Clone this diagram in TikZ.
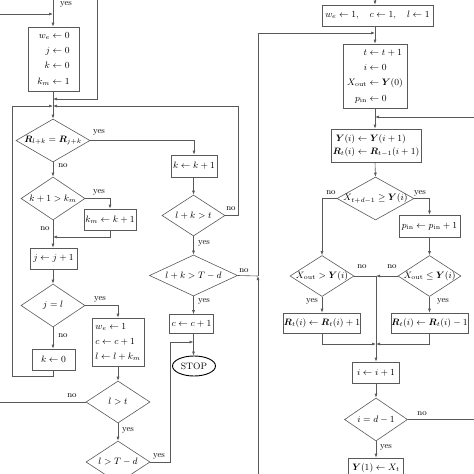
\RequirePackage{fix-cm}
\documentclass[tikz,border=0pt]{standalone}
\usepackage{amsmath}
\usetikzlibrary{shapes.geometric,arrows.meta}
\definecolor{lc}{gray}{0.35}
\tikzset{
  every node/.style={font=\fontsize{9.3}{11}\selectfont},
  blk/.style={draw=lc, line width=0.6pt, rectangle, inner sep=0pt, text=black},
  dia/.style={draw=lc, line width=0.6pt, diamond, inner sep=0pt, text=black},
  term/.style={draw=black, line width=0.9pt, ellipse, inner sep=0pt},
  lbl/.style={font=\fontsize{8.6}{10}\selectfont, inner sep=0pt},
  ln/.style={draw=lc, line width=0.6pt},
  arr/.style={ln, -{Latex[length=4pt,width=3pt]}},
}
\setlength{\jot}{4.4pt}
\begin{document}
\begin{tikzpicture}[x=1pt,y=1pt]
\useasboundingbox (0,0) rectangle (474,-474);
\clip (0,0) rectangle (474,-474);
% ---------- left column ----------
\node[blk,minimum width=51,minimum height=64] (B1) at (53.5,-59)
  {$\begin{aligned} w_e &\leftarrow 0\\ j &\leftarrow 0\\ k &\leftarrow 0\\ k_m &\leftarrow 1\end{aligned}$};
\node[dia,minimum width=74,minimum height=43] (D1) at (53,-140.5) {\makebox[0pt]{$\boldsymbol{R}_{l+k}=\boldsymbol{R}_{j+k}$}};
\node[blk,minimum width=46,minimum height=22] (K1) at (194,-166) {$k\leftarrow k+1$};
\node[dia,minimum width=64,minimum height=43] (D2) at (53,-198.5) {\makebox[0pt]{$k+1>k_m$}};
\node[blk,minimum width=52,minimum height=21] (KM) at (110,-219.5) {$k_m\leftarrow k+1$};
\node[dia,minimum width=63,minimum height=41] (D3) at (193.5,-215.5) {\makebox[0pt]{$l+k>t$}};
\node[blk,minimum width=47,minimum height=21] (J1) at (53.5,-258.5) {$j\leftarrow j+1$};
\node[dia,minimum width=88,minimum height=41] (D7) at (193.5,-275.5) {\makebox[0pt]{$l+k>T-d$}};
\node[dia,minimum width=64,minimum height=43] (D4) at (53,-305.5) {\makebox[0pt]{$j=l$}};
\node[blk,minimum width=52,minimum height=48,align=left,font=\fontsize{9.3}{15}\selectfont] (W1) at (118,-342)
  {$w_e\leftarrow 1$\\$c\leftarrow c+1$\\$l\leftarrow l+k_m$};
\node[blk,minimum width=43,minimum height=21] (K0) at (53.5,-359.5) {$k\leftarrow 0$};
\node[blk,minimum width=44,minimum height=19] (C1) at (191.5,-324) {$c\leftarrow c+1$};
\node[term,minimum width=43,minimum height=20] (STOP) at (194,-366) {STOP};
\node[dia,minimum width=64,minimum height=42] (D5) at (118,-402) {\makebox[0pt]{$l>t$}};
\node[dia,minimum width=64,minimum height=42] (D6) at (118,-462) {\makebox[0pt]{$l>T-d$}};
% ---------- right column ----------
\node[blk,minimum width=111,minimum height=21] (TB) at (377.5,-15.5) {$w_e\leftarrow 1,\quad c\leftarrow 1,\quad l\leftarrow 1$};
\node[blk,minimum width=64,minimum height=64] (TT) at (375,-76)
  {$\begin{aligned} t &\leftarrow t+1\\ i &\leftarrow 0\\ X_{\mathrm{out}} &\leftarrow \boldsymbol{Y}(0)\\ p_{\mathrm{in}} &\leftarrow 0\end{aligned}$};
\node[blk,minimum width=90,minimum height=33] (YB) at (376,-145.5)
  {$\begin{aligned} \boldsymbol{Y}(i) &\leftarrow \boldsymbol{Y}(i+1)\\[-2pt] \boldsymbol{R}_t(i) &\leftarrow \boldsymbol{R}_{t-1}(i+1)\end{aligned}$};
\node[dia,minimum width=77,minimum height=43] (D8) at (375.5,-198.5) {\makebox[0pt]{$X_{t+d-1}\geq\boldsymbol{Y}(i)$}};
\node[blk,minimum width=61,minimum height=22] (PB) at (429.5,-226) {$p_{\mathrm{in}}\leftarrow p_{\mathrm{in}}+1$};
\node[dia,minimum width=64,minimum height=41] (D9) at (322,-276) {\makebox[0pt]{$X_{\mathrm{out}}>\boldsymbol{Y}(i)$}};
\node[dia,minimum width=63,minimum height=41] (D10) at (429.5,-276) {\makebox[0pt]{$X_{\mathrm{out}}\leq\boldsymbol{Y}(i)$}};
\node[blk,minimum width=77,minimum height=20] (RL) at (322,-323) {$\boldsymbol{R}_t(i)\leftarrow\boldsymbol{R}_t(i)+1$};
\node[blk,minimum width=77,minimum height=20] (RR) at (429.5,-323) {$\boldsymbol{R}_t(i)\leftarrow\boldsymbol{R}_t(i)-1$};
\node[blk,minimum width=47,minimum height=21] (IB) at (376,-372.5) {$i\leftarrow i+1$};
\node[dia,minimum width=63,minimum height=43] (D11) at (376,-419.5) {\makebox[0pt]{$i=d-1$}};
\node[blk,minimum width=55,minimum height=21] (Y1) at (376,-468.5) {$\boldsymbol{Y}(1)\leftarrow X_t$};
% ---------- coordinates ----------
\coordinate (topL) at (53,0);
\coordinate (inL) at (0,-14);
\coordinate (m14) at (53,-14);
\coordinate (r97) at (97,0);
\coordinate (j1) at (53,-99);
\coordinate (j2) at (53,-106);
\coordinate (j3) at (53,-237);
\coordinate (lb) at (12,-376);
\coordinate (lt) at (12,-106);
\coordinate (rt) at (238,-106);
\coordinate (outL) at (0,-402);
\coordinate (c170) at (170,-342);
\coordinate (j4) at (193.5,-342);
\coordinate (b258) at (258,-474);
\coordinate (m258) at (258,-276);
\coordinate (t258) at (258,-33);
\coordinate (j5) at (375,-33);
\coordinate (topR) at (375,0);
\coordinate (inR) at (474,-117);
\coordinate (j6) at (375,-117);
\coordinate (n376) at (376,-276);
\coordinate (j7) at (376,-344);
\coordinate (outR) at (474,-419.5);
% ---------- connectors left ----------
\draw[arr] (inL) -- (m14);
\draw[arr] (topL) -- (topL |- B1.north);
\draw[arr] (r97) |- (j1);
\draw[arr] (B1.south -| D1.north) -- (D1.north);
\draw[arr] (D1.east) -| (K1.north);
\draw[arr] (D1.south) -- (D2.north);
\draw[arr] (D2.east) -| (KM.north);
\draw[arr] (KM.south) |- (j3);
\draw[arr] (D2.south) -- (D2.south |- J1.north);
\draw[arr] (D2.south |- J1.south) -- (D4.north);
\draw[arr] (D4.east) -| (W1.north);
\draw[arr] (D4.south) -- (D4.south |- K0.north);
\draw[arr] (D4.south |- K0.south) |- (lb) -- (lt) -- (j2);
\draw[arr] (W1.south) -- (D5.north);
\draw[ln] (D5.west) -- (outL);
\draw[arr] (D5.south) -- (D6.north);
\draw[arr] (D6.east) -| (c170) -- (j4);
\draw[arr] (K1.south -| D3.north) -- (D3.north);
\draw[arr] (D3.east) -| (rt) -- (j2);
\draw[arr] (D3.south) -- (D7.north);
\draw[arr] (D7.south) -- (D7.south |- C1.north);
\draw[arr] (D7.south |- C1.south) -- (D7.south |- STOP.north);
% ---------- connectors right ----------
\draw[arr] (b258) -- (m258);
\draw[ln] (D7.east) -- (m258);
\draw[arr] (m258) -- (t258) -- (j5);
\draw[arr] (topR) -- (topR |- TB.north);
\draw[arr] (TT.north |- TB.south) -- (TT.north);
\draw[arr] (TT.south) -- (TT.south |- YB.north);
\draw[arr] (inR) -- (j6);
\draw[arr] (TT.south |- YB.south) -- (D8.north);
\draw[arr] (D8.west) -| (D9.north);
\draw[arr] (D8.east) -| (PB.north);
\draw[arr] (PB.south) -- (D10.north);
\draw[ln] (D9.east) -- (n376);
\draw[arr] (D10.west) -- (n376);
\draw[arr] (n376) -- (IB.north);
\draw[arr] (D9.south) -- (RL.north);
\draw[arr] (D10.south) -- (RR.north);
\draw[arr] (RL.south) |- (j7);
\draw[arr] (RR.south) |- (j7);
\draw[arr] (IB.south) -- (D11.north);
\draw[ln] (D11.east) -- (outR);
\draw[arr] (D11.south) -- (Y1.north);
% ---------- labels ----------
\node[lbl] (l1) at (66,-4.8) {yes};
\node[lbl] (l2) at (99,-132) {yes};
\node[lbl] (l3) at (63,-166) {no};
\node[lbl] (l4) at (99,-192) {yes};
\node[lbl] (l5) at (45,-229) {no};
\node[lbl] (l6) at (231,-209) {no};
\node[lbl] (l7) at (204,-243) {yes};
\node[lbl] (l8) at (244,-271) {no};
\node[lbl] (l9) at (204,-301) {yes};
\node[lbl] (l10) at (100,-299) {yes};
\node[lbl] (l11) at (63,-336) {no};
\node[lbl] (l12) at (72,-396) {no};
\node[lbl] (l13) at (128,-430) {yes};
\node[lbl] (l14) at (159,-456) {yes};
\node[lbl] (l15) at (331,-193) {no};
\node[lbl] (l16) at (420,-193) {yes};
\node[lbl] (l17) at (362,-267) {no};
\node[lbl] (l18) at (392,-267) {no};
\node[lbl] (l19) at (312,-301) {yes};
\node[lbl] (l20) at (443,-301) {yes};
\node[lbl] (l21) at (422,-414) {no};
\node[lbl] (l22) at (386,-447) {yes};
\end{tikzpicture}
\end{document}
